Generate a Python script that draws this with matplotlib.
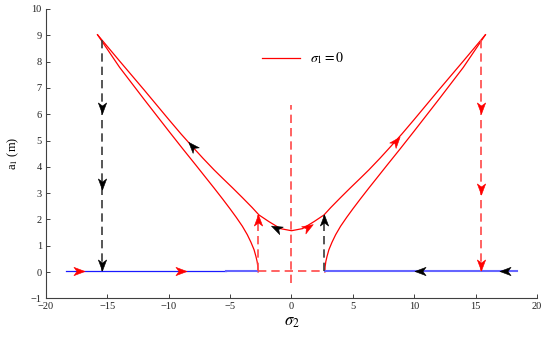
"""
Frequency-response curve a1 vs sigma2 with jump arrows
"""

import numpy as np
import matplotlib
matplotlib.use('Agg')
import matplotlib.pyplot as plt
from matplotlib.path import Path
from matplotlib.markers import MarkerStyle
from matplotlib.transforms import Affine2D

plt.rcParams['font.family'] = ['Liberation Serif', 'DejaVu Serif']
plt.rcParams['mathtext.fontset'] = 'stix'

# values (right half; the left half is its mirror image)
upper_s2 = [0.0, 0.9, 1.85, 2.65, 3.2, 4.0, 4.8, 5.6, 6.3, 7.2, 8.1, 9.0,
            10.0, 12.0, 14.0, 15.8]
upper_a1 = [1.57, 1.65, 1.92, 2.17, 2.45, 2.83, 3.2, 3.56, 3.88, 4.32, 4.78,
            5.25, 5.8, 6.92, 8.02, 9.02]
lower_s2 = [2.72, 2.74, 2.8, 2.9, 3.05, 3.3, 3.6, 4.0, 4.5, 5.0, 5.6, 6.3,
            7.0, 7.8, 8.8, 10.0, 12.0, 14.0, 15.8]
lower_a1 = [0.0, 0.2, 0.4, 0.6, 0.85, 1.13, 1.42, 1.74, 2.08, 2.4, 2.77, 3.19,
            3.6, 4.07, 4.65, 5.36, 6.56, 7.78, 9.02]

trivial_a1 = 0.04
trivial_left = [-18.4, -5.3, -2.72]
trivial_right = [2.72, 18.4]

jump_down_s2 = [-15.45, 15.45]
jump_down_top = 8.82
jump_up_s2 = [-2.72, 2.68]
jump_up_top = 2.15
center_line = [-0.4, 6.35]

# arrowheads: x, y, direction (dx, dy) in data units, colour
arrow_x = [-17.3, -9.0, 10.5, 17.4,
           -15.45, -15.45, -15.45, 15.45, 15.45, 15.45,
           -2.72, 2.68,
           -8.1, 8.54, -1.3, 1.35]
arrow_y = [0.04, 0.04, 0.04, 0.04,
           6.25, 3.35, 0.28, 6.25, 3.15, 0.28,
           1.98, 1.98,
           4.78, 5.0, 1.69, 1.72]
arrow_dx = [1, 1, -1, -1, 0, 0, 0, 0, 0, 0, 0, 0, -1, 1, -1, 1]
arrow_dy = [0, 0, 0, 0, -1, -1, -1, -1, -1, -1, 1, 1, 0.52, 0.55, 0.22, 0.28]
arrow_col = ['red', 'red', 'black', 'black',
             'black', 'black', 'black', 'red', 'red', 'red',
             'red', 'black',
             'black', 'red', 'black', 'red']

ARROW = Path([(1.0, 0.0), (-1.0, 0.75), (-0.45, 0.0), (-1.0, -0.75), (1.0, 0.0)],
             [Path.MOVETO, Path.LINETO, Path.LINETO, Path.LINETO, Path.CLOSEPOLY])


def draw_arrow(ax, x, y, dx, dy, color):
    """Filled arrowhead at (x, y) pointing along (dx, dy) on screen"""
    p0 = ax.transData.transform((x, y))
    p1 = ax.transData.transform((x + dx, y + dy))
    ang = np.degrees(np.arctan2(p1[1] - p0[1], p1[0] - p0[0]))
    m = MarkerStyle(ARROW, transform=Affine2D().rotate_deg(ang))
    ax.plot(x, y, marker=m, color=color, markersize=8, mew=0.4,
            linestyle='none', zorder=5)


def main():
    fig = plt.figure(figsize=(5.5, 3.39), dpi=100)
    ax = fig.add_axes([0.0836, 0.12, 0.8927, 0.8535])
    ax.set_xlim(-20, 20)
    ax.set_ylim(-1, 10)

    up_x = np.array(upper_s2)
    up_y = np.array(upper_a1)
    lo_x = np.array(lower_s2)
    lo_y = np.array(lower_a1)

    # upper branch, one curve through the minimum
    ux = np.concatenate([-up_x[::-1], up_x[1:]])
    uy = np.concatenate([up_y[::-1], up_y[1:]])
    ax.plot(ux, uy, color='#ff0000', lw=0.9, label=r'$\sigma_1 = 0$')
    # lower branches
    ax.plot(-lo_x, lo_y, color='#ff0000', lw=0.9)
    ax.plot(lo_x, lo_y, color='#ff0000', lw=0.9)

    # trivial solution
    ax.plot(trivial_left[:2], [trivial_a1] * 2, color='#1a1aff', lw=0.9)
    ax.plot(trivial_left[1:], [trivial_a1] * 2, color='#6565ff', lw=1.5)
    ax.plot(trivial_right, [trivial_a1] * 2, color='#6565ff', lw=1.5)

    # jumps
    dash = (0, (5, 3))
    ax.plot([jump_down_s2[0]] * 2, [jump_down_top, trivial_a1], color='#3a3a3a',
            lw=1.2, linestyle=dash)
    ax.plot([jump_down_s2[1]] * 2, [jump_down_top, trivial_a1], color='#ff4848',
            lw=1.2, linestyle=dash)
    ax.plot([jump_up_s2[0]] * 2, [trivial_a1, jump_up_top], color='#ff4848',
            lw=1.2, linestyle=dash)
    ax.plot([jump_up_s2[1]] * 2, [trivial_a1, jump_up_top], color='#3a3a3a',
            lw=1.2, linestyle=dash)
    ax.plot([0, 0], center_line, color='#ff4848', lw=1.2, linestyle=dash)
    ax.plot(jump_up_s2, [trivial_a1] * 2, color='#ff4848', lw=1.2, linestyle=dash)

    for x, y, dx, dy, c in zip(arrow_x, arrow_y, arrow_dx, arrow_dy, arrow_col):
        draw_arrow(ax, x, y, dx, dy, c)

    # axes styling
    ax.set_xticks(range(-20, 21, 5))
    ax.set_yticks(range(-1, 11))
    for side in ['top', 'right']:
        ax.spines[side].set_visible(False)
    for side in ['left', 'bottom']:
        ax.spines[side].set_color('#404040')
        ax.spines[side].set_linewidth(0.8)
    ax.tick_params(direction='in', length=3, width=0.7, color='#404040',
                   labelsize=7.5, labelcolor='#222222', pad=3)

    ax.set_xlabel(r'$\sigma_2$', fontsize=12)
    ax.xaxis.set_label_coords(0.5, -0.055)
    ax.set_ylabel(r'a$_1$ (m)', fontsize=9)
    ax.yaxis.set_label_coords(-0.05, 0.5)

    ax.legend(loc='center left', frameon=False, fontsize=10,
              handlelength=2.75, handletextpad=0.7, borderpad=0, borderaxespad=0,
              bbox_to_anchor=(262 / 550, 1 - 58.3 / 339), bbox_transform=fig.transFigure)

    fig.savefig('out.png', dpi=100)


if __name__ == "__main__":
    main()
